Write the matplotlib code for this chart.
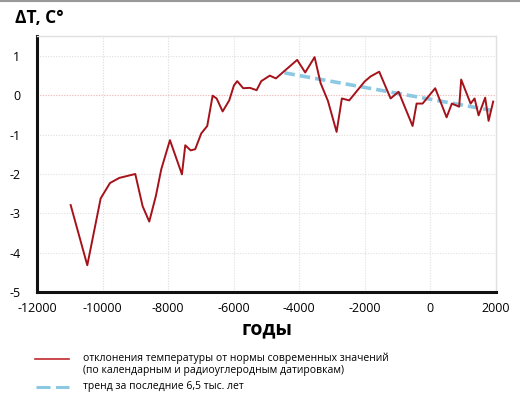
import matplotlib
matplotlib.use("Agg")
import matplotlib.pyplot as plt
from matplotlib.lines import Line2D

plt.rcParams['font.family'] = ['Open Sans', 'DejaVu Sans']

# Data
years = [-10973, -10466, -10058, -9774, -9490, -9003, -8778, -8576, -8372, -8210,
         -7945, -7579, -7478, -7314, -7174, -6991, -6808, -6643, -6521, -6338,
         -6137, -5994, -5893, -5710, -5506, -5302, -5161, -4900, -4713, -4064,
         -3820, -3533, -3350, -3127, -2862, -2701, -2478, -2007, -1825, -1562,
         -1215, -971, -544, -422, -239, 146, 493, 654, 877, 938,
         1225, 1347, 1469, 1670, 1774, 1914]
dT = [-2.79, -4.32, -2.62, -2.23, -2.10, -2.00, -2.82, -3.21, -2.55, -1.88,
      -1.14, -2.01, -1.27, -1.40, -1.37, -0.97, -0.78, -0.01, -0.08, -0.41,
      -0.13, 0.25, 0.36, 0.18, 0.19, 0.13, 0.36, 0.50, 0.43, 0.90,
      0.58, 0.97, 0.31, -0.14, -0.93, -0.08, -0.13, 0.35, 0.48, 0.60,
      -0.08, 0.09, -0.78, -0.21, -0.21, 0.18, -0.56, -0.21, -0.29, 0.40,
      -0.21, -0.08, -0.51, -0.06, -0.65, -0.16]

trend_years = [-4450, 1850]
trend_vals = [0.57, -0.38]

xticks = [-12000, -10000, -8000, -6000, -4000, -2000, 0, 2000]
yticks = [1, 0, -1, -2, -3, -4, -5]

legend_labels = ["отклонения температуры от нормы современных значений\n(по календарным и радиоуглеродным датировкам)",
                 "тренд за последние 6,5 тыс. лет"]

RED = '#a5121a'
BLUE = '#8cc8e2'

fig = plt.figure(figsize=(5.2, 4.0), dpi=100)
ax = fig.add_axes([37/520, 1-292/400, (496-37)/520, (292-36.3)/400])

ax.set_xlim(-12000, 2000)
ax.set_ylim(-5, 1.5)

# grid
for xt in xticks[1:-1]:
    ax.axvline(xt, color='#e2e2e2', lw=0.8, ls=(0, (1.2, 1.2)), zorder=0)
for yt in yticks:
    if yt == 0:
        ax.axhline(yt, color='#f2bcbc', lw=0.8, ls=(0, (1.2, 1.2)), zorder=0)
    elif yt != -5:
        ax.axhline(yt, color='#e8e2e2', lw=0.8, ls=(0, (1.2, 1.2)), zorder=0)

ax.plot(trend_years, trend_vals, color=BLUE, lw=2.6, dashes=(2.9, 1.4), zorder=2,
        dash_capstyle='butt')
ax.plot(years, dT, color=RED, lw=1.4, zorder=3)

ax.set_xticks(xticks)
ax.set_xticklabels([str(v) for v in xticks], fontsize=9)
ax.set_yticks(yticks)
ax.set_yticklabels([str(v) for v in yticks], fontsize=9)
ax.tick_params(axis='both', length=0)
ax.tick_params(axis='y', pad=12)
ax.tick_params(axis='x', pad=7)

for s in ['left', 'bottom']:
    ax.spines[s].set_color('#111111')
    ax.spines[s].set_linewidth(2.2)
for s in ['top', 'right']:
    ax.spines[s].set_color('#e0e0e0')
    ax.spines[s].set_linewidth(1.0)

fig.text(15/520, 1-18/400, "ΔT, C°", fontsize=12.5, fontweight='bold', ha='left', va='center')
fig.text(267/520, 1-329/400, "годы", fontsize=14, fontweight='bold', ha='center', va='center')

# top border line of figure
fig.add_artist(Line2D([0, 1], [1-1/400, 1-1/400], color='#999999', lw=1.5, transform=fig.transFigure))

# legend (manual)
fig.add_artist(Line2D([35/520, 69/520], [1-359/400]*2, color='#c0282e', lw=1.2, transform=fig.transFigure))
fig.add_artist(Line2D([36/520, 69/520], [1-387/400]*2, color=BLUE, lw=2.2, dashes=(4.6, 1.8),
                      dash_capstyle='butt', transform=fig.transFigure))
fig.text(83/520, 1-352/400, legend_labels[0], fontsize=7.5, ha='left', va='top', linespacing=1.15)
fig.text(83/520, 1-387/400, legend_labels[1], fontsize=7.5, ha='left', va='center')

fig.savefig("out.png", dpi=100)
